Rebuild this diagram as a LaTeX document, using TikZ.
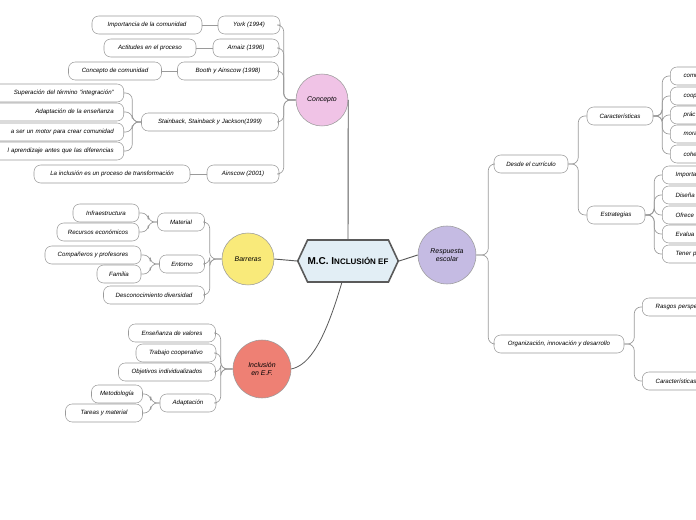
\documentclass[tikz,border=0pt]{standalone}
\usepackage{fontspec}
\setmainfont{Liberation Sans}
\usetikzlibrary{shapes.symbols}
\definecolor{lk}{HTML}{9A9A9A}
\definecolor{dk}{HTML}{5A5A5A}
\definecolor{hexc}{HTML}{E2EEF5}
\definecolor{pinkc}{HTML}{F0C3E6}
\definecolor{yelc}{HTML}{F9EA7A}
\definecolor{redc}{HTML}{EE8074}
\definecolor{purc}{HTML}{C5BBE3}
\tikzset{
 box/.style={draw=lk,fill=white,rounded corners=5pt,minimum height=13.5pt,inner xsep=4pt,inner ysep=1pt,font=\fontsize{4.6}{5}\selectfont\itshape},
 circ/.style={circle,draw=lk,minimum size=#1*1.5pt,inner sep=0pt,font=\fontsize{5.2}{6.5}\selectfont\itshape,align=center},
 ln/.style={draw=lk,line width=0.5pt,rounded corners=5pt},
 mln/.style={draw=dk,line width=0.7pt},
}
\newcommand\bx[5]{\node[box,minimum width=#4*0.75pt] (#1) at (#2,#3) {#5};}
\newcommand\bxl[4]{\node[box,anchor=west,minimum width=120pt,align=left,text width=100pt] (#1) at (#2,#3) {#4};}
\newcommand\bxr[4]{\node[box,anchor=east,minimum width=140pt,align=right,text width=125pt] (#1) at (#2,#3) {#4};}
\newcommand\toL[3]{\draw[ln] (#1.west) -- ++(-#3,0) |- (#2.east);}
\newcommand\toR[3]{\draw[ln] (#1.east) -- ++(#3,0) |- (#2.west);}
\begin{document}
\begin{tikzpicture}[x=0.75pt,y=-0.75pt]
\useasboundingbox (0,0) rectangle (696,520);
\clip (0,0) rectangle (696,520);
\fill[white] (0,0) rectangle (696,520);
% center
\node[signal,signal to=east and west,signal pointer angle=130,draw=dk,line width=1.2pt,fill=hexc,minimum width=88*0.75pt,minimum height=42*0.75pt,inner sep=0pt,font=\fontsize{7.5}{8}\selectfont\bfseries] (c) at (348,261) {M.C. I\fontsize{6}{7}\selectfont NCLUSIÓN EF};
\node[circ=26,fill=pinkc] (con) at (322,100) {Concepto};
\node[circ=26,fill=yelc] (bar) at (248,259) {Barreras};
\node[circ=29,fill=redc] (inc) at (262,369) {Inclusión\\en E.F.};
\node[circ=29,fill=purc] (res) at (447,255) {Respuesta\\escolar};
\draw[mln] (c.north) -- (con.east);
\draw[mln] (c.west) -- (bar.east);
\draw[mln] (c.east) -- (res.west);
\draw[dk,line width=0.6pt] (342,282) .. controls (325,340) and (310,365) .. (inc.east);
% Concepto
\bx{y94}{249}{25}{62}{York (1994)}
\bx{imp}{147}{25}{110}{Importancia de la comunidad}
\bx{a96}{246}{48}{66}{Arnaiz (1996)}
\bx{act}{150}{48}{92}{Actitudes en el proceso}
\bx{b98}{228}{71}{101}{Booth y Ainscow (1998)}
\bx{ccm}{115}{71}{93}{Concepto de comunidad}
\bx{st}{210}{122}{137}{Stainback, Stainback y Jackson(1999)}
\bx{a01}{243}{174}{72}{Ainscow (2001)}
\bx{tra}{112}{174}{156}{La inclusión es un proceso de transformación}
\bxr{s1}{124}{93}{Superación del término ``integración''}
\bxr{s2}{124}{112}{Adaptación de la enseñanza}
\bxr{s3}{124}{132}{a ser un motor para crear comunidad}
\bxr{s4}{124}{151}{l aprendizaje antes que las diferencias}
\foreach \n in {y94,a96,b98,st,a01} {\draw[ln] (con.west) -- ++(-12,0) |- (\n.east);}
\draw[ln] (y94.west) -- (imp.east);
\draw[ln] (a96.west) -- (act.east);
\draw[ln] (b98.west) -- (ccm.east);
\draw[ln] (a01.west) -- (tra.east);
\foreach \n in {s1,s2,s3,s4} {\toL{st}{\n}{9}}
% Barreras
\bx{mat}{181}{222}{47}{Material}
\bx{inf}{106}{213}{66}{Infraestructura}
\bx{rec}{98}{232}{82}{Recursos económicos}
\bx{ent}{182}{264}{45}{Entorno}
\bx{com}{93}{255}{96}{Compañeros y profesores}
\bx{fam}{119}{274}{44}{Familia}
\bx{des}{154}{295}{101}{Desconocimiento diversidad}
\foreach \n in {mat,ent,des} {\toL{bar}{\n}{12}}
\toL{mat}{inf}{9}\toL{mat}{rec}{9}
\toL{ent}{com}{9}\toL{ent}{fam}{9}
% Inclusion
\bx{ens}{172}{333}{87}{Enseñanza de valores}
\bx{tco}{176}{353}{80}{Trabajo cooperativo}
\bx{obj}{167}{372}{97}{Objetivos individualizados}
\bx{ada}{188}{403}{56}{Adaptación}
\bx{met}{117}{394}{51}{Metodología}
\bx{tar}{104}{413}{77}{Tareas y material}
\foreach \n in {ens,tco,obj,ada} {\toL{inc}{\n}{12}}
\toL{ada}{met}{9}\toL{ada}{tar}{9}
% Respuesta
\bx{cur}{531}{164}{74}{Desde el currículo}
\bx{org}{559}{344}{130}{Organización, innovación y desarrollo}
\draw[ln] (res.east) -- ++(12,0) |- (cur.west);
\draw[ln] (res.east) -- ++(12,0) |- (org.west);
\bx{car}{620}{116}{66}{Características}
\bx{est}{616}{215}{58}{Estrategias}
\toR{cur}{car}{10}\toR{cur}{est}{10}
\bxl{c1}{670}{76}{comu}
\bxl{c2}{670}{96}{coop}
\bxl{c3}{670}{115}{prác}
\bxl{c4}{670}{134}{mora}
\bxl{c5}{670}{154}{cohe}
\foreach \n in {c1,c2,c3,c4,c5} {\toR{car}{\n}{9}}
\bxl{e1}{662}{175}{Importa}
\bxl{e2}{662}{195}{Diseña}
\bxl{e3}{662}{215}{Ofrece}
\bxl{e4}{662}{234}{Evalua}
\bxl{e5}{662}{254}{Tener p}
\foreach \n in {e1,e2,e3,e4,e5} {\toR{est}{\n}{9}}
\bxl{r1}{642}{307}{Rasgos perspe}
\bxl{r2}{642}{381}{Características}
\toR{org}{r1}{10}\toR{org}{r2}{10}
\end{tikzpicture}
\end{document}
